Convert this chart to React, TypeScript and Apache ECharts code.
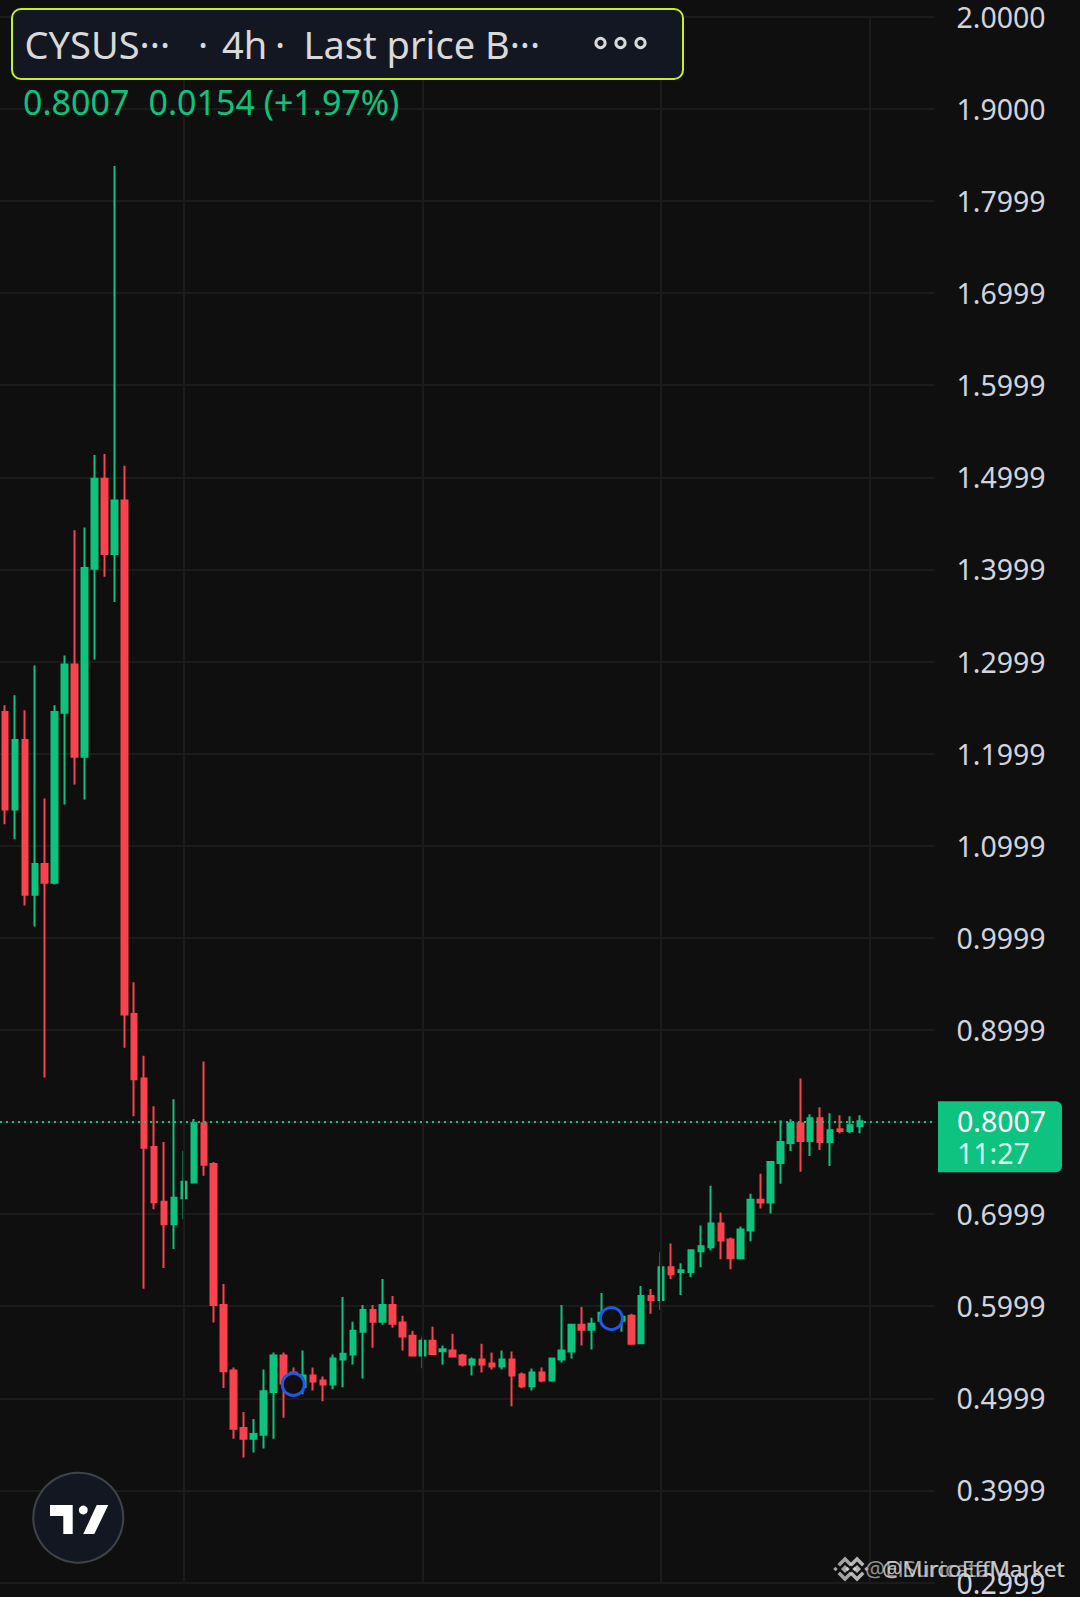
import React, { useEffect, useRef } from "react";
import * as echarts from "echarts";

// ---- data ----
// candle k = -1 .. 85 (index 0 is the partially visible candle at the left edge)
const opens = [
  1.2451, 1.1394, 1.2149, 1.0467, 1.0801, 1.0599, 1.2443, 1.2968, 1.1965, 1.4006,
  1.4984, 1.4168, 1.4747, 0.9173, 0.8472, 0.7728, 0.7135, 0.689, 0.7171, 0.7343,
  0.7987, 0.7545, 0.6014, 0.5302, 0.4677, 0.4562, 0.4605, 0.5068, 0.5464, 0.5281,
  0.5122, 0.5248, 0.5194, 0.5151, 0.5421, 0.5475, 0.5723, 0.596, 0.5831, 0.6014,
  0.5823, 0.568, 0.5464, 0.5626, 0.551, 0.5518, 0.5464, 0.5367, 0.5421, 0.5378,
  0.5345, 0.5421, 0.5259, 0.513, 0.5281, 0.5194, 0.5421, 0.5507, 0.5798, 0.5744,
  0.5841, 0.582, 0.5841, 0.5895, 0.5597, 0.6111, 0.6068, 0.6424, 0.637, 0.637,
  0.6596, 0.6639, 0.6898, 0.6725, 0.6521, 0.6822, 0.7157, 0.7125, 0.7556, 0.7771,
  0.7987, 0.7793, 0.8041, 0.7782, 0.7922, 0.7901, 0.7955,
];
const closes = [
  1.1394, 1.2149, 1.0467, 1.0801, 1.0599, 1.2451, 1.2968, 1.1965, 1.4014, 1.4984,
  1.4168, 1.4747, 0.9166, 0.8465, 0.7721, 0.7128, 0.689, 0.7178, 0.7351, 0.7987,
  0.7537, 0.6014, 0.5295, 0.4669, 0.4562, 0.4612, 0.5076, 0.5464, 0.5162, 0.5173,
  0.5248, 0.5183, 0.5151, 0.5432, 0.5485, 0.5733, 0.596, 0.5831, 0.6014, 0.5809,
  0.5672, 0.5464, 0.5626, 0.5482, 0.5532, 0.5453, 0.5367, 0.5421, 0.5367, 0.5345,
  0.5421, 0.5248, 0.513, 0.5281, 0.5194, 0.5432, 0.5518, 0.5798, 0.5744, 0.5809,
  0.5928, 0.5895, 0.5885, 0.5593, 0.6111, 0.6068, 0.6424, 0.6348, 0.6391, 0.6607,
  0.665, 0.6898, 0.6714, 0.6521, 0.6833, 0.7157, 0.7125, 0.7567, 0.7782, 0.7987,
  0.7793, 0.8041, 0.7782, 0.7911, 0.7901, 0.7965, 0.8007,
];
const lows = [
  1.1232, 1.1071, 1.0351, 1.0122, 0.8483, 1.0578, 1.1448, 1.1664, 1.1502, 1.3022,
  1.392, 1.3647, 0.8806, 0.8062, 0.619, 0.7052, 0.6416, 0.6621, 0.6944, 0.7343,
  0.7416, 0.5823, 0.5111, 0.4562, 0.4357, 0.4411, 0.4454, 0.4562, 0.4788, 0.5086,
  0.5043, 0.5086, 0.4968, 0.5097, 0.5119, 0.5367, 0.5216, 0.555, 0.5798, 0.5766,
  0.5518, 0.5464, 0.5327, 0.5475, 0.5367, 0.5442, 0.5345, 0.5248, 0.5281, 0.5313,
  0.5313, 0.4914, 0.5108, 0.5086, 0.5173, 0.5194, 0.5388, 0.5432, 0.5572, 0.5529,
  0.5809, 0.5733, 0.5723, 0.5583, 0.5593, 0.5917, 0.596, 0.6294, 0.6122, 0.6316,
  0.6424, 0.6607, 0.651, 0.6402, 0.6521, 0.6704, 0.706, 0.7006, 0.7329, 0.7685,
  0.7459, 0.7631, 0.7696, 0.7523, 0.7879, 0.7879, 0.7879,
];
const highs = [
  1.2526, 1.2634, 1.2472, 1.2957, 1.1513, 1.2526, 1.3065, 1.4424, 1.4456, 1.5243,
  1.5254, 1.8381, 1.5125, 0.9518, 0.872, 0.817, 0.7782, 0.8246, 0.7685, 0.8033,
  0.8656, 0.7567, 0.624, 0.5334, 0.485, 0.4774, 0.5313, 0.5496, 0.5496, 0.5334,
  0.5518, 0.5334, 0.5237, 0.5475, 0.61, 0.5831, 0.6014, 0.6014, 0.6294, 0.6111,
  0.5895, 0.5733, 0.5669, 0.5777, 0.5572, 0.5701, 0.5485, 0.5442, 0.5593, 0.5496,
  0.5518, 0.5507, 0.5281, 0.5324, 0.5334, 0.5432, 0.6014, 0.5809, 0.5992, 0.5874,
  0.6143, 0.5949, 0.5906, 0.5917, 0.6219, 0.6186, 0.6585, 0.6682, 0.6467, 0.6618,
  0.6876, 0.7308, 0.7017, 0.6747, 0.6865, 0.7222, 0.7437, 0.7577, 0.8019, 0.803,
  0.8472, 0.8084, 0.816, 0.8095, 0.8073, 0.8062, 0.8073,
];

// 94 time slots on the axis (candles fill the first 87, the rest is right margin)
const SLOT_COUNT = 94;
const categories = Array.from({ length: SLOT_COUNT }, (_, i) => `#${i}`);

// vertical grid (day boundaries) at these slots
const gridSlots = [18, 42, 66, 87];

// blue event markers
const markerSlots = [29, 61];
const markerPrices = [0.5151, 0.5866];

// price axis tick labels for 0.3, 0.4, ... 2.0
const yTickLabels = [
  "0.2999", "0.3999", "0.4999", "0.5999", "0.6999", "0.7999", "0.8999", "0.9999",
  "1.0999", "1.1999", "1.2999", "1.3999", "1.4999", "1.5999", "1.6999", "1.7999",
  "1.9000", "2.0000",
];

const LAST_PRICE = 0.8007;
const LAST_CHANGE = "0.0154 (+1.97%)";
const COUNTDOWN = "11:27";
const TITLE_PARTS = ["CYSUS···", "·", "4h", "·", "Last price B···"];
const WATERMARK_A = "@ElSuricataMarket";
const WATERMARK_B = "@MircoEffMarket";

// ---- styles ----
const BG = "#0f0f0f";
const GRID = "#1b1b1b";
const GREEN = "#0ec27f";
const RED = "#f9434f";
const AXIS_TEXT = "#d1d4dc";
const FONT = "Noto Sans";

function binanceLogo(cx: number, cy: number, s: number, fill: string) {
  const d = (x: number, y: number, h: number) => ({
    type: "polygon",
    shape: { points: [[x, y - h], [x + h, y], [x, y + h], [x - h, y]] },
    style: { fill },
  });
  const chevron = (dir: number) => ({
    type: "polygon",
    shape: {
      points: [
        [cx, cy + dir * 0.5 * s],
        [cx + 0.3 * s, cy + dir * 0.2 * s],
        [cx + 0.2 * s, cy + dir * 0.1 * s],
        [cx, cy + dir * 0.3 * s],
        [cx - 0.2 * s, cy + dir * 0.1 * s],
        [cx - 0.3 * s, cy + dir * 0.2 * s],
      ],
    },
    style: { fill },
  });
  return [
    d(cx, cy, 0.16 * s),
    d(cx - 0.38 * s, cy, 0.09 * s),
    d(cx + 0.38 * s, cy, 0.09 * s),
    chevron(-1),
    chevron(1),
  ];
}

function txt(text: string, x: number, y: number, size: number, fill: string, align = "left", z = 101) {
  return {
    type: "text",
    x,
    y,
    z,
    style: { text, fill, fontSize: size, fontFamily: FONT, verticalAlign: "middle", align },
  };
}

function buildGraphics(py: number) {
  const els: any[] = [];
  // header box
  els.push({
    type: "rect",
    shape: { x: 12, y: 9, width: 671, height: 70, r: 9 },
    style: { fill: "#131722", stroke: "#c8ef1e", lineWidth: 2 },
    z: 100,
  });
  const titleX = [24.5, 203, 222, 280, 303.5];
  const titleAlign = ["left", "center", "left", "center", "left"];
  TITLE_PARTS.forEach((t, i) => els.push(txt(t, titleX[i], 44, 38, "#d9d9d9", titleAlign[i])));
  [600.5, 620.5, 640.5].forEach((cx) =>
    els.push({
      type: "circle",
      shape: { cx, cy: 43, r: 4.6 },
      style: { fill: "none", stroke: "#d9d9d9", lineWidth: 3 },
      z: 101,
    })
  );
  // price + change line
  els.push(txt(LAST_PRICE.toFixed(4), 23, 102, 34, GREEN));
  els.push(txt(LAST_CHANGE, 148.5, 102, 34, GREEN));
  // last price label on the axis
  els.push({
    type: "rect",
    shape: { x: 938, y: py - 20, width: 124, height: 71, r: [0, 6, 6, 0] },
    style: { fill: GREEN },
    z: 100,
  });
  els.push(txt(LAST_PRICE.toFixed(4), 957, py, 28.5, "#ffffff"));
  els.push(txt(COUNTDOWN, 957, py + 32, 28.5, "rgba(255,255,255,0.85)"));
  // TradingView logo
  els.push({
    type: "circle",
    shape: { cx: 78.3, cy: 1517.7, r: 45 },
    style: { fill: "#131722", stroke: "#3f4449", lineWidth: 2 },
    z: 100,
  });
  els.push({
    type: "polygon",
    shape: {
      points: [
        [50, 1505], [72.7, 1505], [72.7, 1534], [63.3, 1534], [63.3, 1516], [50, 1516],
      ],
    },
    style: { fill: "#ffffff" },
    z: 101,
  });
  els.push({
    type: "circle",
    shape: { cx: 83.3, cy: 1510, r: 4.4 },
    style: { fill: "#ffffff" },
    z: 101,
  });
  els.push({
    type: "polygon",
    shape: { points: [[96.7, 1505], [108.3, 1505], [94.3, 1534], [83.3, 1534]] },
    style: { fill: "#ffffff" },
    z: 101,
  });
  // watermark
  binanceLogo(845, 1569, 25, "rgba(200,200,200,0.8)").forEach((e) => els.push({ ...e, z: 102 }));
  binanceLogo(857, 1569, 25, "rgba(220,220,220,0.8)").forEach((e) => els.push({ ...e, z: 102 }));
  els.push(txt(WATERMARK_A, 865, 1568, 22.5, "rgba(170,170,170,0.85)", "left", 102));
  els.push(txt(WATERMARK_B, 882, 1568, 22.5, "rgba(215,215,215,0.85)", "left", 102));
  return els;
}

export default function App() {
  const ref = useRef<HTMLDivElement>(null);

  useEffect(() => {
    document.body.style.margin = "0";
    document.body.style.background = BG;
    const el = ref.current;
    if (!el) return;
    const chart = echarts.init(el, null, { renderer: "svg" });

    const ohlc = opens.map((o, i) => [o, closes[i], lows[i], highs[i]]);
    const lastSlot = ohlc.length - 1;

    const option: any = {
      animation: false,
      backgroundColor: BG,
      textStyle: { fontFamily: FONT },
      grid: { left: -5.5, right: 145.5, top: 16.8, bottom: 3.45, containLabel: false },
      xAxis: {
        type: "category",
        data: categories,
        boundaryGap: true,
        axisLine: { show: false },
        axisTick: { show: false },
        axisLabel: { show: false },
        splitLine: { show: false },
      },
      yAxis: {
        type: "value",
        position: "right",
        min: 0.3,
        max: 2.0,
        interval: 0.1,
        axisLine: { show: false },
        axisTick: { show: false },
        splitLine: { show: true, lineStyle: { color: GRID, width: 2 } },
        axisLabel: {
          show: true,
          inside: false,
          margin: 22,
          align: "left",
          color: AXIS_TEXT,
          fontSize: 28.5,
          fontFamily: FONT,
          showMinLabel: true,
          showMaxLabel: true,
          formatter: (v: number) => {
            if (Math.abs(v - LAST_PRICE) < 0.03) return "";
            const idx = Math.round((v - 0.3) / 0.1);
            return yTickLabels[idx] ?? "";
          },
        },
      },
      series: [
        {
          type: "line",
          data: [],
          z: 1,
          silent: true,
          markLine: {
            silent: true,
            symbol: ["none", "none"],
            label: { show: false },
            lineStyle: { color: GRID, width: 2, type: "solid" },
            data: gridSlots.map((s) => ({ xAxis: s })),
          },
        },
        {
          type: "candlestick",
          data: ohlc,
          barWidth: 6,
          z: 3,
          itemStyle: {
            color: GREEN,
            color0: RED,
            borderColor: GREEN,
            borderColor0: RED,
            borderWidth: 2,
          },
          markLine: {
            silent: true,
            symbol: ["none", "none"],
            label: { show: false },
            lineStyle: { color: GREEN, width: 2, type: [2, 4] },
            data: [{ yAxis: LAST_PRICE }],
          },
        },
        {
          type: "scatter",
          z: 5,
          symbol: "circle",
          symbolSize: 22,
          itemStyle: { color: BG, borderColor: "#1f5ae6", borderWidth: 3, opacity: 1 },
          data: markerSlots.map((s, i) => [s, markerPrices[i]]),
        },
      ],
    };

    chart.setOption(option);
    const pt = chart.convertToPixel({ gridIndex: 0 }, [lastSlot, LAST_PRICE]) as number[];
    const py = pt && isFinite(pt[1]) ? pt[1] : 1129;
    chart.setOption({ graphic: buildGraphics(py) });

    return () => chart.dispose();
  }, []);

  return (
    <div
      ref={ref}
      style={{ position: "fixed", left: 0, top: 0, width: 1080, height: 1597, background: BG }}
    />
  );
}
